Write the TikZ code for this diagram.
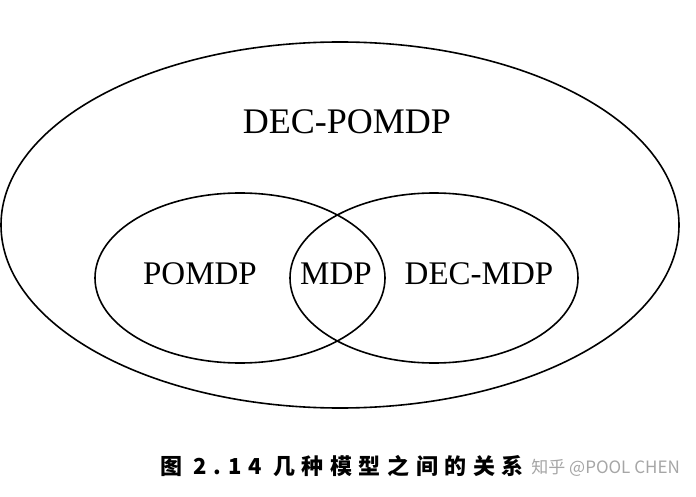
\documentclass[tikz,border=0pt]{standalone}
\usepackage{fontspec}
\setmainfont{Liberation Serif}
\newfontfamily\cjk[LetterSpace=30]{Noto Sans CJK SC}
\newfontfamily\cjkw{Noto Sans CJK SC}
\begin{document}
\begin{tikzpicture}[x=1pt,y=-1pt,
  ell/.style={draw=black,line width=1.6pt},
  lbl/.style={font=\fontsize{33}{36}\selectfont,inner sep=0pt}]
\path[fill=white] (0,0) rectangle (696,497);
\draw[ell] (340,225) ellipse [x radius=339,y radius=183];
\draw[ell] (240,278) ellipse [x radius=145,y radius=85];
\draw[ell] (434,278) ellipse [x radius=144,y radius=85];
\node[lbl,font=\fontsize{36}{40}\selectfont] (dp) at (347,122) {DEC-POMDP};
\node[lbl] (p) at (200,274) {POMDP};
\node[lbl] (m) at (336,274) {MDP};
\node[lbl] (d) at (479,274) {DEC-MDP};
\node[inner sep=0pt,anchor=west,font=\cjk\bfseries\fontsize{22}{24}\selectfont] (cap) at (160,466) {图 2.14 几种模型之间的关系};
\node[inner sep=0pt,anchor=east,text=gray!70,font=\cjkw\fontsize{17}{20}\selectfont] (wm) at (680,468) {知乎 @POOL CHEN};
\end{tikzpicture}
\end{document}
